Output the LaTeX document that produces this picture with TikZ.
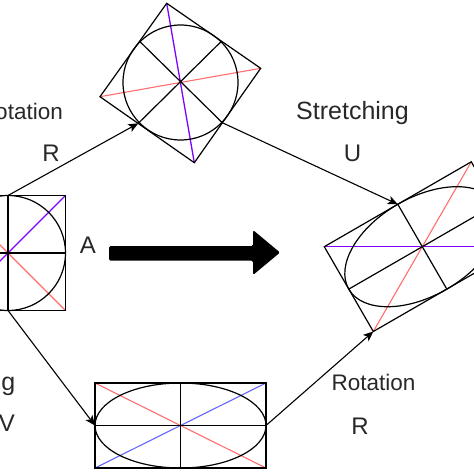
\documentclass[tikz,border=0pt]{standalone}
\usepackage{fontspec}
\setmainfont{Liberation Sans}
\usetikzlibrary{arrows.meta}
\tikzset{
	black line/.style={draw=black, line width=1.2pt},
	purple line/.style={draw={rgb,255:red,127;green,0;blue,255}, line width=1.3pt},
	red line/.style={draw={rgb,255:red,255;green,110;blue,110}, line width=1.1pt},
	blue line/.style={draw={rgb,255:red,100;green,100;blue,255}, line width=1.1pt},
	map arrow/.style={draw=black, line width=1.1pt, -{Stealth[length=10pt, width=8.5pt, inset=2.5pt]}},
	big label/.style={text={rgb,255:red,40;green,40;blue,40}, inner sep=0pt, font=\fontsize{25}{30}\selectfont},
	mid label/.style={text={rgb,255:red,40;green,40;blue,40}, inner sep=0pt, font=\fontsize{22.5}{27}\selectfont},
	letter label/.style={text={rgb,255:red,40;green,40;blue,40}, inner sep=0pt, font=\fontsize{24}{28}\selectfont},
}

\begin{document}
\begin{tikzpicture}[x=1pt, y=-1pt]
  \useasboundingbox (0,0) rectangle (474,474);
  \clip (0,0) rectangle (474,474);

  % left square
  \coordinate (sq) at (8,253);
  \coordinate (sqN) at (8,195.5);
  \coordinate (sqS) at (8,310.5);
  \draw[purple line] (-49.5,310.5) -- (65.5,195.5);
  \draw[red line] (-49.5,195.5) -- (65.5,310.5);
  \draw[black line] (-49.5,195.5) rectangle (65.5,310.5);
  \draw[black line] (sq) circle (57.5);
  \draw[black line] (sqN) -- (sqS) (-49.5,253) -- (65.5,253);

  % rotated square
  \coordinate (rc) at (180.5,82.5);
  \coordinate (rT) at (166.7,3.3);
  \coordinate (rE) at (260.7,68.3);
  \coordinate (rB) at (194.3,162.7);
  \coordinate (rW) at (100,96.7);
  \coordinate (rNW) at (140,41.7);
  \coordinate (rNE) at (221,41.7);
  \coordinate (rSW) at (138.3,123.3);
  \coordinate (rSE) at (222.3,122.7);
  \draw[purple line] (rT) -- (rB);
  \draw[red line] (rW) -- (rE);
  \draw[black line] (rT) -- (rE) -- (rB) -- (rW) -- cycle;
  \draw[black line] (rc) circle (57.5);
  \draw[black line] (rNW) -- (rSE) (rNE) -- (rSW);

  % stretched and rotated
  \coordinate (uc) at (422.3,246.7);
  \coordinate (uW) at (324.3,246.7);
  \coordinate (uN) at (471.3,161.8);
  \coordinate (uE) at (520.3,246.7);
  \coordinate (uS) at (373.3,331.5);
  \coordinate (uA1) at (397.8,204.3);
  \coordinate (uA2) at (446.8,289.1);
  \coordinate (uB1) at (348.8,289.1);
  \coordinate (uB2) at (495.8,204.3);
  \draw[purple line] (uW) -- (uE);
  \draw[red line] (uS) -- (uN);
  \draw[black line] (uW) -- (uN) -- (uE) -- (uS) -- cycle;
  \draw[black line, rotate around={30:(uc)}] (uc) ellipse [x radius=84.9, y radius=49];
  \draw[black line] (uA1) -- (uA2) (uB1) -- (uB2);

  % stretched rectangle
  \coordinate (vc) at (180.5,425.5);
  \coordinate (vW) at (95,425.5);
  \coordinate (vE) at (266,425.5);
  \draw[red line] (95,383) -- (266,468);
  \draw[blue line] (95,468) -- (266,383);
  \draw[black line] (95,383) rectangle (266,468);
  \draw[black line] (vc) ellipse [x radius=85.5, y radius=42.5];
  \draw[black line] (180.5,383) -- (180.5,468) (vW) -- (vE);

  % maps
  \draw[map arrow] (sqN) -- (rSW);
  \draw[map arrow] (rSE) -- (uA1);
  \draw[map arrow] (sqS) -- (vW);
  \draw[map arrow] (vE) -- (uS);
  \fill[rounded corners=1.5pt] (109,246) -- (253,246) -- (253,230) -- (280,252.5)
    -- (253,275) -- (253,260.7) -- (109,260.7) -- cycle;

  \node[mid label, anchor=base east] (rotL) at (63,119) {Rotation};
  \node[letter label, anchor=base] (rL) at (51,161.5) {R};
  \node[big label, anchor=base] (strU) at (352.5,119) {Stretching};
  \node[letter label, anchor=base] (uL) at (352.5,161.5) {U};
  \node[letter label, anchor=base] (aL) at (88,253) {A};
  \node[big label, anchor=base east] (strV) at (15.5,390) {Stretching};
  \node[letter label, anchor=base] (vL) at (7,431.5) {V};
  \node[mid label, anchor=base] (rotR) at (373.5,390) {Rotation};
  \node[letter label, anchor=base] (rR) at (360,434) {R};
\end{tikzpicture}
\end{document}
